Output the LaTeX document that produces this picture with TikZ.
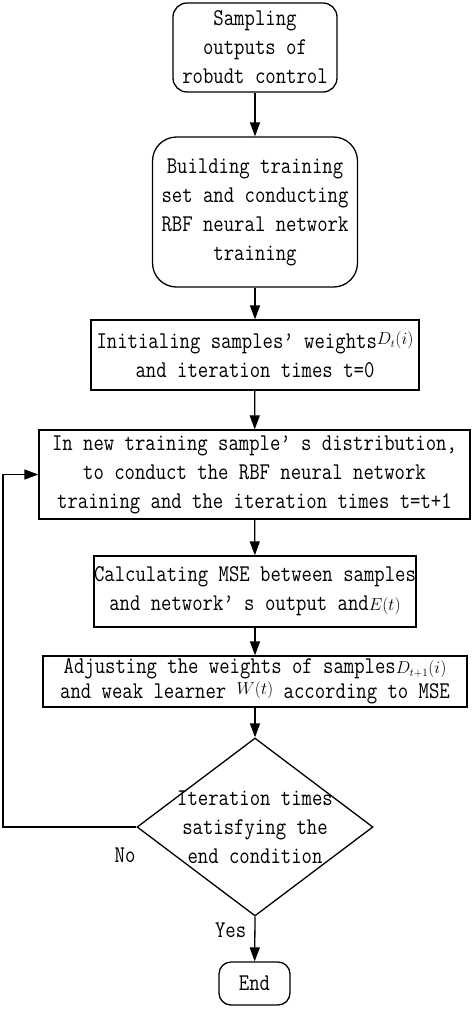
\documentclass[tikz,border=0pt]{standalone}
\usepackage{fontspec}
\setmainfont[FakeStretch=0.84]{Latin Modern Mono}
\usetikzlibrary{arrows.meta,shapes.geometric}
\newcommand\mth[1]{{\fontsize{16}{16}\selectfont$#1$}}
\begin{document}
\begin{tikzpicture}[
        x=1pt, y=-1pt,
        every node/.style={font=\fontsize{24}{29}\selectfont, align=center, inner sep=0pt},
        block/.style={draw, line width=1.3pt, minimum width=#1},
        rblock/.style={block=#1, rounded corners=14pt},
        decision/.style={draw, diamond, line width=1.3pt, minimum width=236pt, minimum height=178pt},
        forward/.style={-{Triangle[length=14pt,width=10pt]}, line width=1.3pt}
    ]
        \useasboundingbox (0,0) rectangle (474,1010);
        \node[rblock=164pt, minimum height=89pt] (samp) at (255,47.5) {Sampling\\outputs of\\robudt control};
        \node[rblock=205pt, minimum height=150pt, rounded corners=24pt] (build) at (255,212) {Building training\\set and conducting\\RBF neural network\\training};
        \draw[forward] (samp) -- (build);
        \node[block=328pt, minimum height=70pt] (init) at (255,355) {Initialing samples’ weights\raisebox{4pt}{\mth{D_t(i)}}\\and iteration times t=0};
        \draw[forward] (build) -- (init);
        \node[block=431pt, minimum height=89pt] (train) at (254.5,474.5) {In new training sample’ s distribution,\\to conduct the RBF neural network\\training and the iteration times t=t+1};
        \draw[forward] (init) -- (train);
        \node[block=266pt, minimum height=71pt] (calc) at (255,591.5) {Calculating MSE between samples\\and network’ s output and\mth{E(t)}};
        \draw[forward] (train) -- (calc);
        \node[block=424pt, minimum height=51pt, font=\fontsize{24}{25}\selectfont] (adjust) at (255,681.5) {Adjusting the weights of samples\mth{D_{t+1}(i)}\\and weak learner \raisebox{4pt}{\mth{W(t)}} according to MSE};
        \draw[forward] (calc) -- (adjust);
        \node[decision] (check) at (255,827) {};
        \node (checktext) at (255,827) {Iteration times\\satisfying the\\end condition};
        \draw[forward] (adjust) -- (check);
        \node[rblock=71pt, minimum height=43pt, rounded corners=12pt] (end) at (254.5,983.5) {End};
        \draw[forward] (check.south) -- node[pos=0.3, left=8pt] (yes) {Yes} (end);
        % loop back
        \coordinate (turn) at (3,827);
        \draw[forward] (check.west) -- (turn) |- (train.west);
        \node (no) at (125,855) {No};
    \end{tikzpicture}
\end{document}
